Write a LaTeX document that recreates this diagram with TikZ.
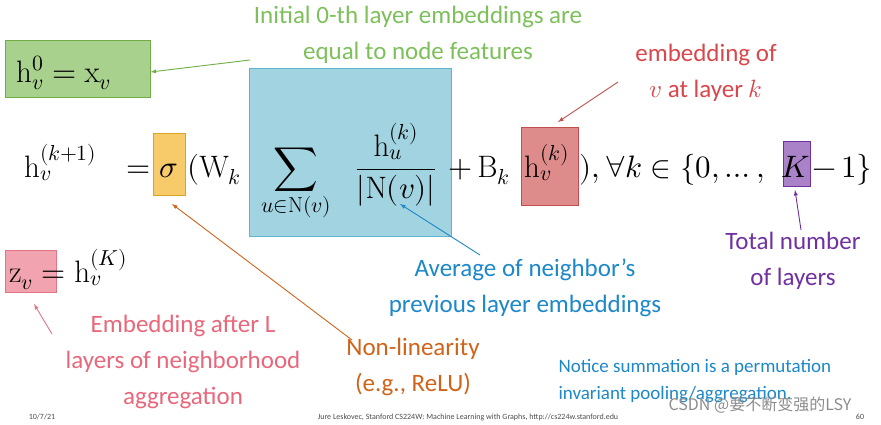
\documentclass[tikz,border=0pt]{standalone}
\usepackage{amsmath}
\usepackage{fontspec}
\usepackage{unicode-math}
\setmainfont{Carlito}
\setmathfont{Latin Modern Math}
\setmathrm{Latin Modern Roman}
\newfontfamily\cjk{Noto Sans CJK SC}
\begin{document}
\begin{tikzpicture}[x=1pt,y=-1pt,
  ann/.style={font=\fontsize{25}{36}\selectfont,align=center},
  fm/.style={font=\fontsize{31}{36}\selectfont,anchor=base,inner sep=0pt},
  bx/.style={line width=1pt},
  arr/.style={-latex,line width=0.9pt}]
\definecolor{gfill}{HTML}{A9D18E}\definecolor{gline}{HTML}{70AD47}\definecolor{gtext}{HTML}{7DC05A}
\definecolor{yfill}{HTML}{F7CB6A}\definecolor{yline}{HTML}{D6A52A}
\definecolor{bfill}{HTML}{A2D3E0}\definecolor{bline}{HTML}{5FB4CF}
\definecolor{rfill}{HTML}{DE8B8B}\definecolor{rline}{HTML}{C0504D}\definecolor{rtext}{HTML}{D9464B}
\definecolor{pfill}{HTML}{A982C8}\definecolor{pline}{HTML}{7030A0}
\definecolor{kfill}{HTML}{F2A3B0}\definecolor{kline}{HTML}{E37486}\definecolor{ktext}{HTML}{E8677A}
\definecolor{otext}{HTML}{D0631A}\definecolor{btext}{HTML}{1C87C9}
\useasboundingbox (0,0) rectangle (881,424);
% boxes
\node[bx,draw=gline,fill=gfill,minimum width=145pt,minimum height=57pt] (gb) at (77.5,68.5) {};
\node[bx,draw=yline,fill=yfill,minimum width=32pt,minimum height=62pt] (yb) at (169,164) {};
\node[bx,draw=bline,fill=bfill,minimum width=202pt,minimum height=168pt] (bb) at (350,152) {};
\node[bx,draw=rline,fill=rfill,minimum width=57pt,minimum height=78pt] (rb) at (549.5,166) {};
\node[bx,draw=pline,fill=pfill,minimum width=27pt,minimum height=45pt] (pb) at (796.5,163.5) {};
\node[bx,draw=kline,fill=kfill,minimum width=51pt,minimum height=42pt] (kb) at (30.5,271) {};
% formulas
\node[fm,anchor=base west] (f0) at (16,82) {$\mathrm{h}_v^0=\mathrm{x}_v$};
\node[fm,anchor=base west] (f1) at (24,177) {$\mathrm{h}_v^{(k+1)}$};
\node[fm] (f2) at (139,177) {$=$};
\node[fm] (f3) at (169,177) {$\sigma$};
\node[fm,anchor=base west] (f4) at (187,177) {$(\mathrm{W}_k$};
\node[fm] (f5) at (296,177) {$\displaystyle\sum_{u\in \mathrm{N}(v)}$};
\node[fm] (f6) at (396,177) {$\dfrac{\mathrm{h}_u^{(k)}}{|\mathrm{N}(v)|}$};
\node[fm,anchor=base west] (f7) at (448,177) {$+\,\mathrm{B}_k$};
\node[fm,anchor=base west] (f8) at (524,177) {$\mathrm{h}_v^{(k)}$};
\node[fm,anchor=base west] (f9) at (579,177) {$),\forall k\in\{0,\ldots,$};
\node[fm] (f10) at (796,177) {$K$};
\node[fm,anchor=base west] (f11) at (812,177) {$-\,1\}$};
\node[fm,anchor=base west] (f12) at (9,282) {$\mathrm{z}_v=\mathrm{h}_v^{(K)}$};
% annotations
\node[ann,text=gtext] (tg) at (418,35) {Initial 0-th layer embeddings are\\equal to node features};
\node[ann,text=rtext] (tr) at (706,73) {embedding of\\$v$ at layer $k$};
\node[ann,text=pline] (tp) at (793,261) {Total number\\of layers};
\node[ann,text=btext] (tb) at (525,288) {Average of neighbor’s\\previous layer embeddings};
\node[ann,text=ktext] (tk) at (183,362) {Embedding after L\\layers of neighborhood\\aggregation};
\node[ann,text=otext] (to) at (413,367) {Non-linearity\\(e.g., ReLU)};
\node[font=\fontsize{19}{27}\selectfont,text=btext,align=left,anchor=north west] (tn) at (555,356) {Notice summation is a permutation\\invariant pooling/aggregation.};
\node[font=\fontsize{16}{18}\selectfont\cjk,text=black!45] (wm) at (760,405) {CSDN @要不断变强的LSY};
\node[font=\fontsize{8}{9}\selectfont,text=black!70] (d) at (42,417) {10/7/21};
\node[font=\fontsize{8}{9}\selectfont,text=black!70] (c) at (468,417) {Jure Leskovec, Stanford CS224W: Machine Learning with Graphs, http://cs224w.stanford.edu};
\node[font=\fontsize{8}{9}\selectfont,text=black!70] (n) at (860,417) {60};
% arrows
\coordinate (ag) at (250,60);
\draw[arr,gline] (ag) -- (gb.east|-72,72);
\coordinate (ar) at (618,82);
\draw[arr,rline] (ar) -- (558,122);
\coordinate (ao) at (352,340);
\draw[arr,otext] (ao) -- (172,204);
\coordinate (ab) at (480,255);
\draw[arr,btext] (ab) -- (400,204);
\coordinate (ap) at (801,230);
\draw[arr,pline] (ap) -- (795,190);
\coordinate (ak) at (52,334);
\draw[arr,kline] (ak) -- (34,304);
\end{tikzpicture}
\end{document}
